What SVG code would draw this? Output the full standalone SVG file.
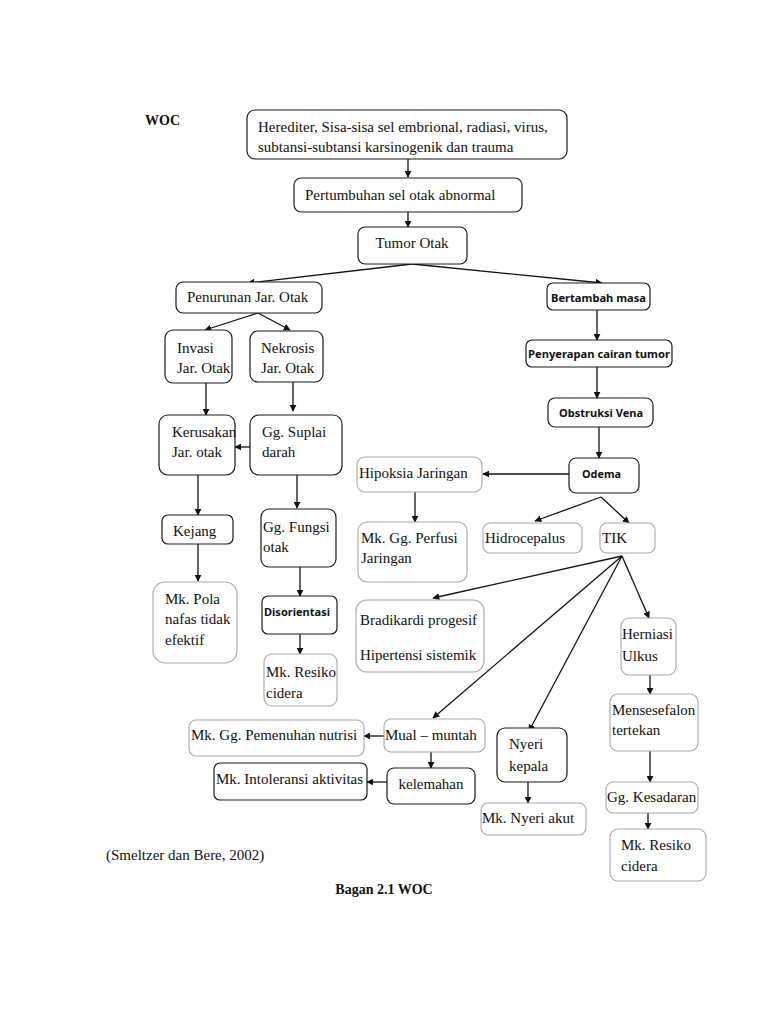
<svg xmlns="http://www.w3.org/2000/svg" width="768" height="1024" viewBox="0 0 768 1024">
<style>
.d{fill:#fff;stroke:#1a1a1a;stroke-width:1.2}
.l{fill:#fff;stroke:#a8a8a8;stroke-width:1.1}
.t{font-family:"Liberation Serif","Times New Roman",serif;font-size:15px;fill:#111}
.s{font-family:"Noto Sans","Open Sans",sans-serif;font-size:11px;font-weight:bold;fill:#111}
.h{font-family:"Liberation Serif","Times New Roman",serif;font-size:14px;font-weight:bold;fill:#111}
.c line{stroke:#111;stroke-width:1.3;marker-end:url(#a)}
</style>
<defs>
<marker id="a" viewBox="0 0 10 10" refX="9" refY="5" markerWidth="7" markerHeight="7" markerUnits="userSpaceOnUse" orient="auto">
<path d="M0,0 L10,5 L0,10 z" fill="#111"/>
</marker>
</defs>
<rect width="768" height="1024" fill="#fff"/>
<text class="h" x="145" y="125" font-size="13">WOC</text>

<g id="connectors" class="c">
<line x1="408" y1="159" x2="408" y2="177"/>
<line x1="408" y1="212" x2="408" y2="227"/>
<line x1="412" y1="264" x2="248" y2="283"/>
<line x1="412" y1="264" x2="602" y2="283"/>
<line x1="597" y1="310" x2="597" y2="340"/>
<line x1="597" y1="367" x2="597" y2="398"/>
<line x1="599" y1="427" x2="599" y2="458"/>
<line x1="569" y1="474" x2="483" y2="474"/>
<line x1="415" y1="492" x2="415" y2="522"/>
<line x1="601" y1="497" x2="535" y2="521"/>
<line x1="601" y1="497" x2="629" y2="523"/>
<line x1="622" y1="556" x2="433" y2="598"/>
<line x1="622" y1="556" x2="433" y2="718"/>
<line x1="622" y1="556" x2="529" y2="731"/>
<line x1="622" y1="556" x2="649" y2="618"/>
<line x1="650" y1="675" x2="650" y2="694"/>
<line x1="650" y1="751" x2="650" y2="782"/>
<line x1="648" y1="813" x2="648" y2="829"/>
<line x1="384" y1="736" x2="364" y2="736"/>
<line x1="431" y1="752" x2="431" y2="768"/>
<line x1="387" y1="782" x2="367" y2="782"/>
<line x1="528" y1="782" x2="528" y2="803"/>
<line x1="258" y1="313" x2="205" y2="330"/>
<line x1="258" y1="313" x2="290" y2="330"/>
<line x1="206" y1="383" x2="206" y2="415"/>
<line x1="293" y1="382" x2="293" y2="411"/>
<line x1="250" y1="447" x2="235" y2="447"/>
<line x1="198" y1="475" x2="198" y2="515"/>
<line x1="198" y1="544" x2="198" y2="581"/>
<line x1="297" y1="475" x2="297" y2="508"/>
<line x1="300" y1="567" x2="300" y2="596"/>
<line x1="300" y1="634" x2="300" y2="654"/>
</g>

<g id="n-sebab"><rect class="d" x="247" y="110" width="320" height="49" rx="8"/>
<text class="t" x="258" y="132">Herediter, Sisa-sisa sel embrional, radiasi, virus,</text>
<text class="t" x="258" y="152">subtansi-subtansi karsinogenik dan trauma</text></g>
<g id="n-pertumbuhan"><rect class="d" x="294" y="178" width="228" height="34" rx="7"/>
<text class="t" x="305" y="200">Pertumbuhan sel otak abnormal</text></g>
<g id="n-tumor"><rect class="d" x="358" y="227" width="109" height="37" rx="7"/>
<text class="t" x="412" y="248" text-anchor="middle">Tumor Otak</text></g>
<g id="n-penurunan"><rect class="d" x="176" y="282" width="146" height="31" rx="7"/>
<text class="t" x="187" y="302">Penurunan Jar. Otak</text></g>
<g id="n-invasi"><rect class="d" x="165" y="330" width="67" height="53" rx="8"/>
<text class="t" x="177" y="353">Invasi</text><text class="t" x="177" y="373">Jar. Otak</text></g>
<g id="n-nekrosis"><rect class="d" x="250" y="331" width="73" height="51" rx="8"/>
<text class="t" x="261" y="353">Nekrosis</text><text class="t" x="261" y="373">Jar. Otak</text></g>
<g id="n-kerusakan"><rect class="d" x="159" y="415" width="76" height="60" rx="9"/>
<text class="t" x="172" y="437">Kerusakan</text><text class="t" x="172" y="457">Jar. otak</text></g>
<g id="n-suplai"><rect class="d" x="250" y="415" width="92" height="60" rx="9"/>
<text class="t" x="262" y="437">Gg. Suplai</text><text class="t" x="262" y="457">darah</text></g>
<g id="n-kejang"><rect class="d" x="162" y="515" width="71" height="29" rx="6"/>
<text class="t" x="173" y="536">Kejang</text></g>
<g id="n-pola"><rect class="l" x="153" y="582" width="84" height="81" rx="12"/>
<text class="t" x="165" y="604">Mk. Pola</text><text class="t" x="165" y="624">nafas tidak</text><text class="t" x="165" y="645">efektif</text></g>
<g id="n-fungsi"><rect class="d" x="261" y="509" width="75" height="58" rx="8"/>
<text class="t" x="263" y="532">Gg. Fungsi</text><text class="t" x="263" y="552">otak</text></g>
<g id="n-disorientasi"><rect class="d" x="262" y="596" width="75" height="38" rx="6"/>
<text class="s" x="264" y="616" textLength="66" lengthAdjust="spacingAndGlyphs">Disorientasi</text></g>
<g id="n-resiko1"><rect class="l" x="264" y="654" width="73" height="52" rx="8"/>
<text class="t" x="266" y="677">Mk. Resiko</text><text class="t" x="266" y="698">cidera</text></g>
<g id="n-bertambah"><rect class="d" x="547" y="283" width="103" height="27" rx="6"/>
<text class="s" x="551" y="302" textLength="95" lengthAdjust="spacingAndGlyphs">Bertambah masa</text></g>
<g id="n-penyerapan"><rect class="d" x="526" y="340" width="146" height="27" rx="6"/>
<text class="s" x="528" y="358" textLength="142" lengthAdjust="spacingAndGlyphs">Penyerapan cairan tumor</text></g>
<g id="n-obstruksi"><rect class="d" x="548" y="398" width="105" height="29" rx="7"/>
<text class="s" x="559" y="417" textLength="84" lengthAdjust="spacingAndGlyphs">Obstruksi Vena</text></g>
<g id="n-odema"><rect class="d" x="569" y="458" width="70" height="35" rx="7"/>
<text class="s" x="582" y="478" textLength="39" lengthAdjust="spacingAndGlyphs">Odema</text></g>
<g id="n-hipoksia"><rect class="l" x="357" y="457" width="125" height="35" rx="8"/>
<text class="t" x="359" y="478">Hipoksia Jaringan</text></g>
<g id="n-perfusi"><rect class="l" x="358" y="522" width="109" height="60" rx="9"/>
<text class="t" x="361" y="543">Mk. Gg. Perfusi</text><text class="t" x="361" y="563">Jaringan</text></g>
<g id="n-hidrocepalus"><rect class="l" x="483" y="523" width="99" height="30" rx="7"/>
<text class="t" x="485" y="543">Hidrocepalus</text></g>
<g id="n-tik"><rect class="l" x="600" y="523" width="55" height="30" rx="7"/>
<text class="t" x="602" y="543">TIK</text></g>
<g id="n-bradikardi"><rect class="l" x="356" y="600" width="128" height="72" rx="11"/>
<text class="t" x="360" y="625">Bradikardi progesif</text><text class="t" x="360" y="660">Hipertensi sistemik</text></g>
<g id="n-herniasi"><rect class="l" x="621" y="618" width="55" height="57" rx="8"/>
<text class="t" x="622" y="639">Herniasi</text><text class="t" x="622" y="661">Ulkus</text></g>
<g id="n-mensesefalon"><rect class="l" x="610" y="694" width="88" height="57" rx="8"/>
<text class="t" x="612" y="715">Mensesefalon</text><text class="t" x="612" y="735">tertekan</text></g>
<g id="n-kesadaran"><rect class="l" x="606" y="782" width="92" height="31" rx="7"/>
<text class="t" x="607" y="802">Gg. Kesadaran</text></g>
<g id="n-resiko2"><rect class="l" x="610" y="829" width="96" height="52" rx="8"/>
<text class="t" x="621" y="850">Mk. Resiko</text><text class="t" x="621" y="871">cidera</text></g>
<g id="n-mual"><rect class="l" x="384" y="719" width="101" height="33" rx="7"/>
<text class="t" x="385" y="740">Mual – muntah</text></g>
<g id="n-nutrisi"><rect class="l" x="189" y="720" width="175" height="36" rx="7"/>
<text class="t" x="191" y="740">Mk. Gg. Pemenuhan nutrisi</text></g>
<g id="n-kelemahan"><rect class="d" x="387" y="768" width="88" height="36" rx="7"/>
<text class="t" x="431" y="789" text-anchor="middle">kelemahan</text></g>
<g id="n-intoleransi"><rect class="d" x="214" y="763" width="153" height="37" rx="6"/>
<text class="t" x="216" y="784">Mk. Intoleransi aktivitas</text></g>
<g id="n-nyeri"><rect class="d" x="497" y="728" width="70" height="54" rx="8"/>
<text class="t" x="509" y="749">Nyeri</text><text class="t" x="509" y="771">kepala</text></g>
<g id="n-nyeriakut"><rect class="l" x="481" y="803" width="105" height="32" rx="7"/>
<text class="t" x="482" y="823">Mk. Nyeri akut</text></g>

<text class="t" x="106" y="860">(Smeltzer dan Bere, 2002)</text>
<text class="h" x="384" y="894" text-anchor="middle">Bagan 2.1 WOC</text>
</svg>
